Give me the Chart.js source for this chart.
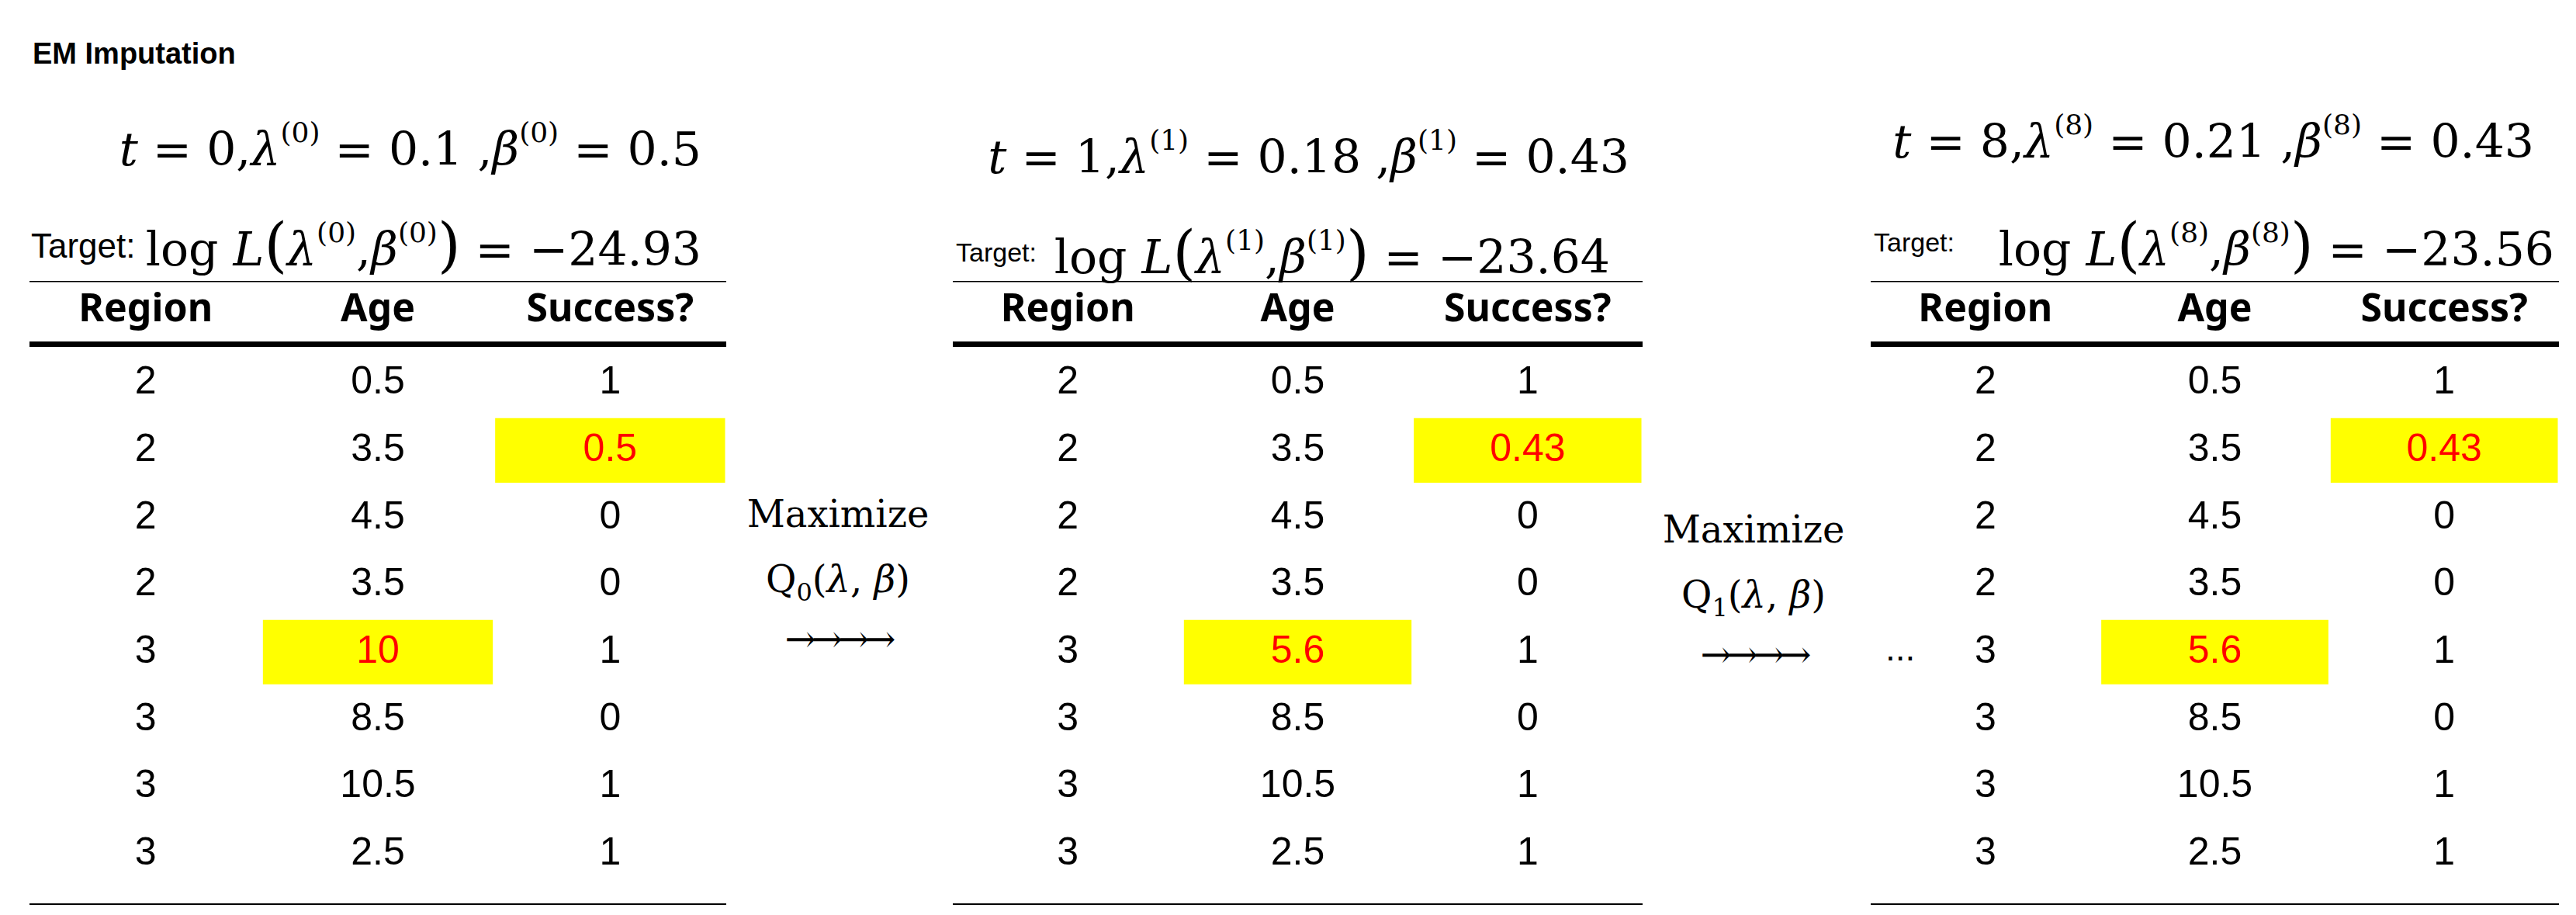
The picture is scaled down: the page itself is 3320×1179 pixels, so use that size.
<!DOCTYPE html>
<html><head><meta charset="utf-8">
<script src="https://cdn.jsdelivr.net/npm/chart.js@4/dist/chart.umd.min.js"></script>
<style>
body{margin:0;background:#fff;width:3320px;height:1179px;position:relative;overflow:hidden;font-family:"Liberation Sans",sans-serif}
.abs{position:absolute;white-space:nowrap;color:#000;line-height:1}
.math{font-family:"DejaVu Serif",serif;font-size:60px}
.math i{font-style:italic}
.math sup{font-size:36px;vertical-align:30px;line-height:0}
.big{font-size:76px;font-weight:200}
.tg{font-family:"Liberation Sans Narrow","Liberation Sans",sans-serif;font-size:44px}
.tgs{font-size:34px}
.mx{font-family:"DejaVu Serif",serif;font-size:48px;text-align:center;line-height:84px}
.cv{position:absolute}
</style></head><body>
<div class="abs" style="left:42px;top:50px;font-family:'Liberation Sans Narrow','Liberation Sans';font-weight:bold;font-size:38px">EM Imputation</div>

<div class="abs math" style="right:2416px;top:162px"><i>t</i> = 0,<i>λ</i><sup>(0)</sup> = 0.1 ,<i>β</i><sup>(0)</sup> = 0.5</div>
<div class="abs tg" style="left:40px;top:295px">Target:</div>
<div class="abs math" style="right:2416px;top:278px">log <i>L</i><span class="big">(</span><i>λ</i><sup>(0)</sup>,<i>β</i><sup>(0)</sup><span class="big">)</span> = −24.93</div>

<div class="abs math" style="right:1220px;top:172px"><i>t</i> = 1,<i>λ</i><sup>(1)</sup> = 0.18 ,<i>β</i><sup>(1)</sup> = 0.43</div>
<div class="abs tg tgs" style="left:1232px;top:308px">Target:</div>
<div class="abs math" style="right:1245px;top:288px">log <i>L</i><span class="big">(</span><i>λ</i><sup>(1)</sup>,<i>β</i><sup>(1)</sup><span class="big">)</span> = −23.64</div>

<div class="abs math" style="right:54px;top:152px"><i>t</i> = 8,<i>λ</i><sup>(8)</sup> = 0.21 ,<i>β</i><sup>(8)</sup> = 0.43</div>
<div class="abs tg tgs" style="left:2415px;top:295px">Target:</div>
<div class="abs math" style="right:28px;top:278px">log <i>L</i><span class="big">(</span><i>λ</i><sup>(8)</sup>,<i>β</i><sup>(8)</sup><span class="big">)</span> = −23.56</div>

<div class="abs mx" style="left:910px;top:620px;width:340px">Maximize<br>Q<sub style="font-size:32px">0</sub>(<i>λ</i>, <i>β</i>)<br><span style="position:relative;top:-24px;letter-spacing:-6px">→→→→</span></div>
<div class="abs mx" style="left:2090px;top:640px;width:340px">Maximize<br>Q<sub style="font-size:32px">1</sub>(<i>λ</i>, <i>β</i>)<br><span style="position:relative;top:-24px;letter-spacing:-6px">→→→→</span></div>
<div class="abs" style="left:2430px;top:812px;font-size:46px">...</div>

<div class="cv" style="left:38px;top:362px;width:898px;height:804px"><canvas id="c0"></canvas></div>
<div class="cv" style="left:1228px;top:362px;width:889px;height:804px"><canvas id="c1"></canvas></div>
<div class="cv" style="left:2411px;top:362px;width:887px;height:804px"><canvas id="c2"></canvas></div>

<script>
const columns = ["Region","Age","Success?"];
const region = [2,2,2,2,3,3,3,3];
const age0 = ["0.5","3.5","4.5","3.5","10","8.5","10.5","2.5"];
const success0 = ["1","0.5","0","0","1","0","1","1"];
const age1 = ["0.5","3.5","4.5","3.5","5.6","8.5","10.5","2.5"];
const success1 = ["1","0.43","0","0","1","0","1","1"];
const age8 = ["0.5","3.5","4.5","3.5","5.6","8.5","10.5","2.5"];
const success8 = ["1","0.43","0","0","1","0","1","1"];
// imputed cells: [column, row (1-based)]
const imputed = [["Success?",2],["Age",5]];

function makeTable(id, ages, succ){
  const cellPlugin = {
    id:'cells',
    afterDatasetsDraw(chart){
      const {ctx, scales:{x,y}, chartArea:a} = chart;
      ctx.save();
      ctx.strokeStyle='#000';
      [[-0.52,3],[0.42,7],[8.76,4]].forEach(([v,w])=>{
        const py=y.getPixelForValue(v);
        ctx.lineWidth=w; ctx.beginPath(); ctx.moveTo(a.left,py); ctx.lineTo(a.right,py); ctx.stroke();
      });
      ctx.textAlign='center'; ctx.textBaseline='middle';
      ctx.font='bold 50px "Noto Sans", sans-serif'; ctx.fillStyle='#000';
      columns.forEach(c=>ctx.fillText(c, x.getPixelForValue(c), y.getPixelForValue(-0.08)));
      ctx.font='50px "Liberation Sans", sans-serif';
      const cols=[region.map(String), ages, succ];
      cols.forEach((vals,ci)=>vals.forEach((v,ri)=>{
        const imp = imputed.some(([c,r])=>c===columns[ci]&&r===ri+1);
        ctx.fillStyle = imp ? '#ff0000' : '#000';
        ctx.fillText(v, x.getPixelForValue(columns[ci]), y.getPixelForValue(ri+1));
      }));
      ctx.restore();
    }
  };
  new Chart(document.getElementById(id), {
    type:'bar',
    data:{labels:columns, datasets:[{
      data: imputed.map(([c,r])=>({x:c, y:[r-0.48, r+0.48]})),
      backgroundColor:'#ffff00', borderWidth:0, barPercentage:0.99, categoryPercentage:1
    }]},
    options:{
      responsive:true, maintainAspectRatio:false, animation:false,
      layout:{padding:0},
      plugins:{legend:{display:false}, tooltip:{enabled:false}},
      scales:{
        x:{type:'category', display:false, offset:true},
        y:{type:'linear', display:false, reverse:true, min:-0.52, max:8.76}
      }
    },
    plugins:[cellPlugin]
  });
}
makeTable('c0', age0, success0);
makeTable('c1', age1, success1);
makeTable('c2', age8, success8);
</script>
</body></html>
